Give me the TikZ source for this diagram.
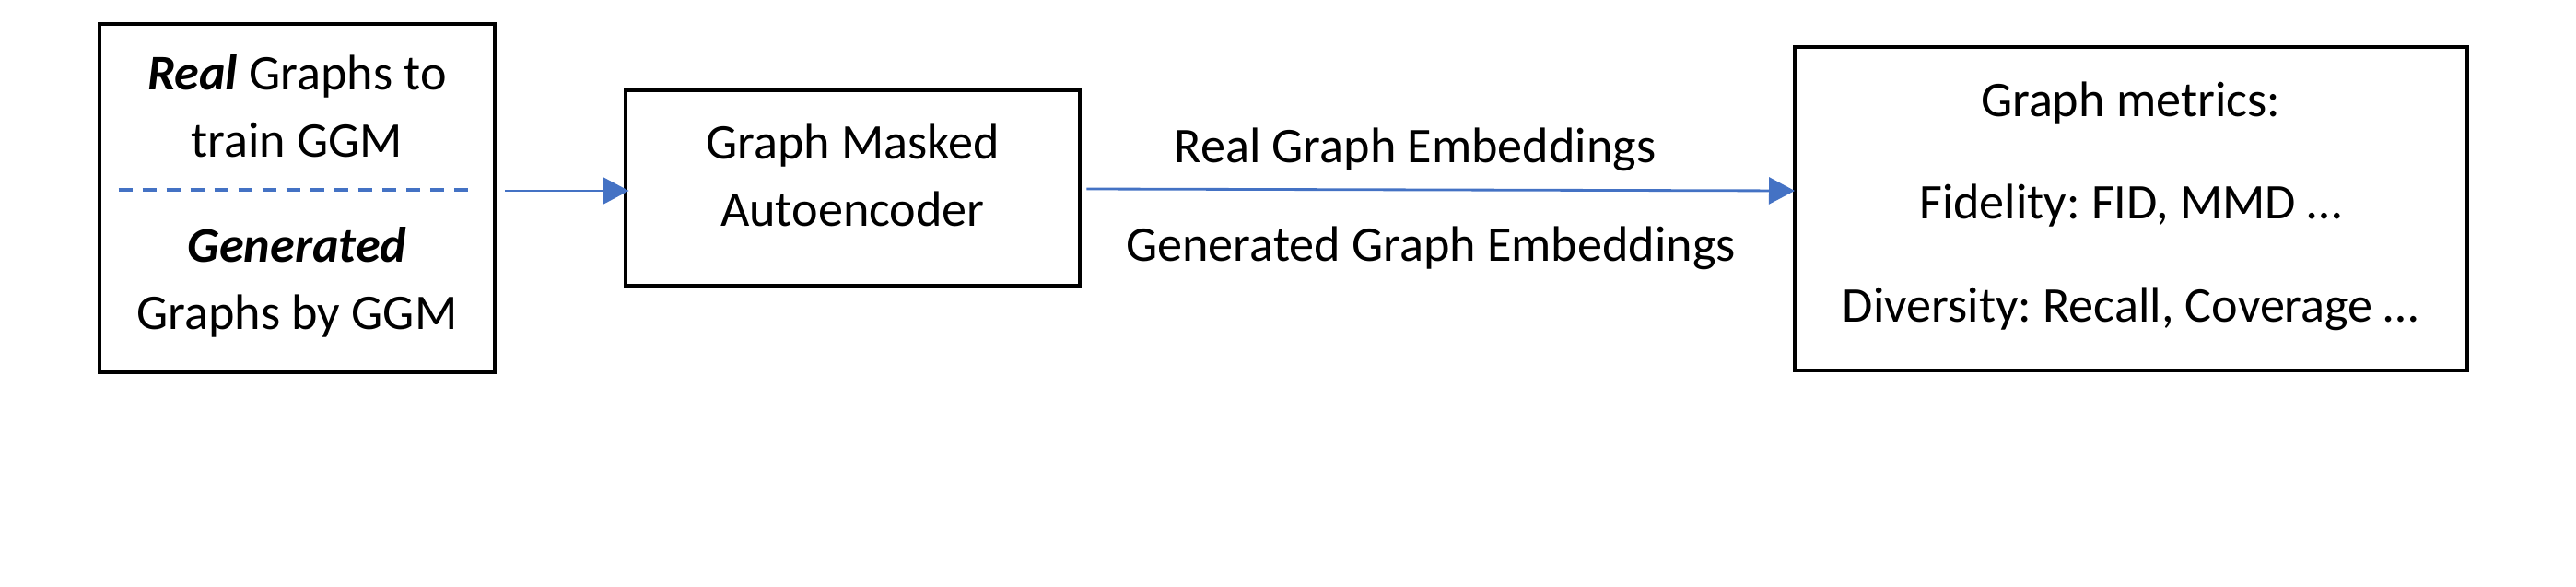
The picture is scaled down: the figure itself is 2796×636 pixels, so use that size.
\documentclass[tikz,border=0pt]{standalone}
\usepackage{fontspec}
\setmainfont{Carlito}
\usepackage{xcolor}
\usetikzlibrary{arrows.meta,positioning,calc}
\definecolor{arrblue}{HTML}{4472C4}
\frenchspacing
\begin{document}
\begin{tikzpicture}[x=0.01cm,y=-0.01cm,
  font=\fontsize{15.4}{20.7}\selectfont,
  b/.style={draw,line width=1.3pt,inner sep=0pt},
  t/.style={align=center,inner sep=0pt},
  dl/.style={draw=arrblue,line width=1.1pt,dash pattern=on 1.5mm off 1.1mm},
  a/.style={draw=arrblue,line width=0.8pt,-{Triangle[length=2.8mm,width=2.9mm]}}]
\useasboundingbox (0,0) rectangle (2796,636);
\node[b,minimum width=4.29cm,minimum height=3.78cm] (src) at (322.5,215) {};
\node[b,minimum width=4.93cm,minimum height=2.12cm] (mae) at (925.5,204) {};
\node[b,minimum width=7.29cm,minimum height=3.51cm] (met) at (2312.5,226.5) {};
\node[t] (real) at (322.5,115.5) {\textbf{\textit{Real}} Graphs to\\train GGM};
\node[t] (gen) at (322.5,306) {\textbf{\textit{Generated}}\\Graphs by GGM};
\node[t] (maetxt) at (925.5,190.5) {Graph Masked\\Autoencoder};
\node[t] (mettxt) at (2312.5,223.5) {Graph metrics:\\[0.388cm]Fidelity: FID, MMD \dots\\[0.388cm]Diversity: Recall, Coverage \dots};
\node[t] (reallbl) at (1536,162) {Real Graph Embeddings};
\node[t] (genlbl) at (1553,269) {Generated Graph Embeddings};
\draw[dl] ($(src.west)+(23,-9)$) -- ($(src.east)+(-23,-9)$);
\draw[a] ($(src.east)+(9,-8)$) -- ($(mae.west)+(6,3)$);
\draw[a] ($(mae.east)+(5,1)$) -- ($(met.west)+(2.5,-19.5)$);
\end{tikzpicture}
\end{document}
